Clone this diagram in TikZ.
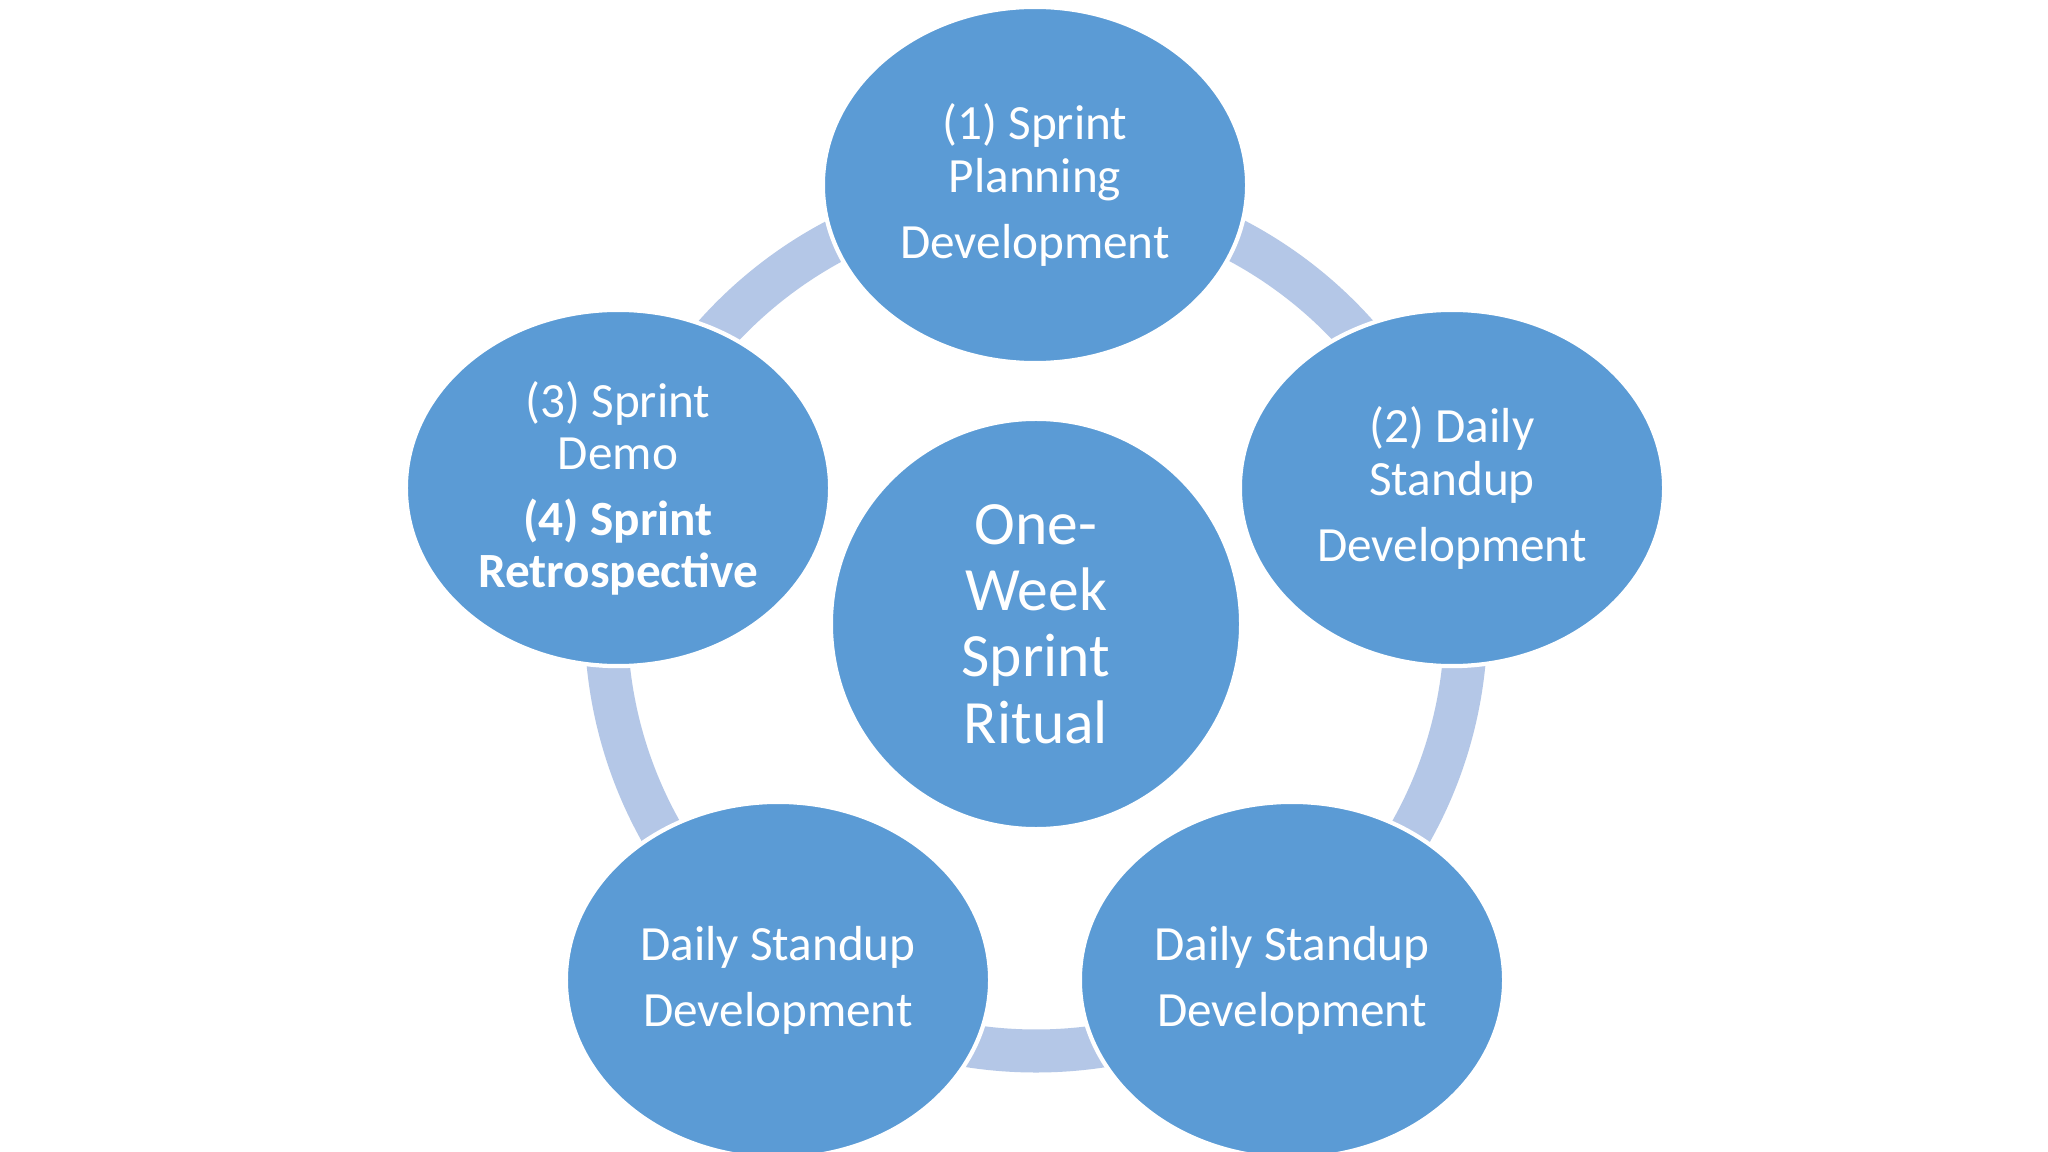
\documentclass[tikz,border=0pt]{standalone}
\usepackage{fontspec}
\setmainfont{Carlito}
\usetikzlibrary{shapes.geometric}
\definecolor{stepblue}{RGB}{91,155,213}
\definecolor{ringblue}{RGB}{180,199,231}
\tikzset{
	phase/.style={ellipse,fill=stepblue,draw=white,line width=1.2pt,minimum width=4.24cm,minimum height=3.56cm,inner sep=0pt,text=white,align=center,font=\fontsize{14}{14.8}\selectfont},
	hub/.style={phase,circle,minimum size=4.1cm,font=\fontsize{17.5}{18.9}\selectfont}
}
\begin{document}
\begin{tikzpicture}[x=.01cm,y=-.01cm]
	\clip (0,0) rectangle (2048,1152);
	\fill[white] (0,0) rectangle (2048,1152);
	\path (1036,621) coordinate (O);
	\draw[ringblue,line width=.43cm] (O) circle (430);
	\node[phase] (plan) at (1035,185) {(1) Sprint\\Planning\\[4pt]Development};
	\node[phase] (daily) at (1452,488) {(2) Daily\\Standup\\[4pt]Development};
	\node[phase] (demo) at (618,488) {(3) Sprint\\Demo\\[4pt]\textbf{(4) Sprint}\\\textbf{Retrospective}};
	\node[phase] (dayl) at (778,980) {Daily Standup\\[4pt]Development};
	\node[phase] (dayr) at (1292,980) {Daily Standup\\[4pt]Development};
	\node[hub] (ritual) at (1036,624) {One-\\Week\\Sprint\\Ritual};
\end{tikzpicture}
\end{document}
